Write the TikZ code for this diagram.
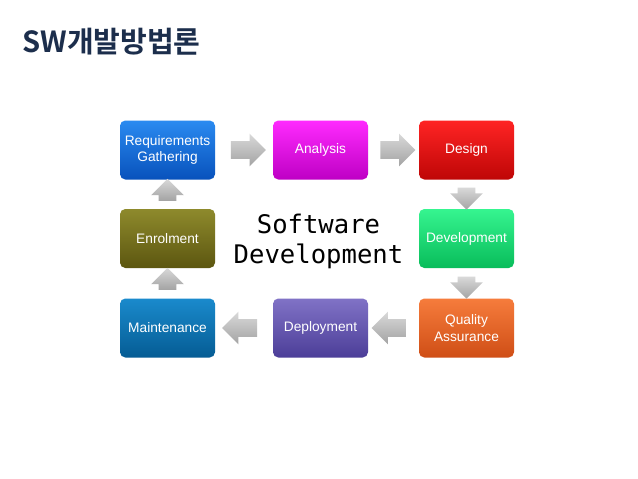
\documentclass[tikz,border=0pt]{standalone}
\usepackage{fontspec}
\setmainfont{Liberation Sans}
\newfontfamily\krfont{Noto Sans CJK KR Bold}
\newfontfamily\monofont{DejaVu Sans Mono}
\usetikzlibrary{shapes.arrows}

\definecolor{titlenavy}{HTML}{1C2E4C}
\definecolor{reqtop}{HTML}{2A8AF0}\definecolor{reqbot}{HTML}{0852BC}
\definecolor{anatop}{HTML}{FF2AFF}\definecolor{anabot}{HTML}{BE00C4}
\definecolor{destop}{HTML}{FF2424}\definecolor{desbot}{HTML}{BE0606}
\definecolor{devtop}{HTML}{36F590}\definecolor{devbot}{HTML}{08BC5A}
\definecolor{qatop}{HTML}{F67C3C}\definecolor{qabot}{HTML}{CF4E16}
\definecolor{deptop}{HTML}{8072C6}\definecolor{depbot}{HTML}{4C3E98}
\definecolor{maitop}{HTML}{1A8ACC}\definecolor{maibot}{HTML}{055C94}
\definecolor{enrtop}{HTML}{8E8A2C}\definecolor{enrbot}{HTML}{5C5610}

\tikzset{
    stage/.style 2 args={rounded corners=4pt, minimum width=71.25pt, minimum height=44.25pt,
        inner sep=0pt, align=center, text=white, top color=#1, bottom color=#2,
        font=\fontsize{10.3}{12.6}\selectfont},
    garrow/.style={single arrow, single arrow head extend=5.5pt, inner xsep=0pt, inner ysep=6.5pt,
        top color=gray!30, bottom color=gray!72, sloped, allow upside down}
}

\begin{document}
\begin{tikzpicture}[x=0.75pt,y=-0.75pt]
            \fill[white] (0,0) rectangle (638,478);
            \useasboundingbox (0,0) rectangle (638,478);
            \node[anchor=base west, inner sep=0pt, text=titlenavy,
                font=\krfont\fontsize{21.8}{26}\selectfont] (title) at (22,53) {SW개발방법론};
            \node[stage={reqtop}{reqbot}] (req) at (167.5,150) {Requirements\\Gathering};
            \node[stage={anatop}{anabot}] (ana) at (320.5,150) {Analysis};
            \node[stage={destop}{desbot}] (des) at (466.5,150) {Design};
            \node[stage={devtop}{devbot}] (dev) at (466.5,238.5) {Development};
            \node[stage={qatop}{qabot}] (qa) at (466.5,328) {Quality\\Assurance};
            \node[stage={deptop}{depbot}] (dep) at (320.5,328) {Deployment};
            \node[stage={maitop}{maibot}] (mai) at (167.5,328) {Maintenance};
            \node[stage={enrtop}{enrbot}] (enr) at (167.5,238.5) {Enrolment};
            \node[align=center, font=\monofont\fontsize{19.2}{22.5}\selectfont] (swdev) at (318.5,241) {Software\\Development};
            \path (req) -- node[garrow, minimum height=26.25pt] {} (ana);
            \path (ana) -- node[garrow, minimum height=26.25pt] {} (des);
            \path (des) -- node[garrow, minimum height=16.5pt] {} (dev);
            \path (dev) -- node[garrow, minimum height=16.5pt] {} (qa);
            \path (qa) -- node[garrow, minimum height=26.25pt] {} (dep);
            \path (dep) -- node[garrow, minimum height=26.25pt] {} (mai);
            \path (mai) -- node[garrow, minimum height=16.5pt] {} (enr);
            \path (enr) -- node[garrow, minimum height=16.5pt] {} (req);
\end{tikzpicture}
\end{document}
